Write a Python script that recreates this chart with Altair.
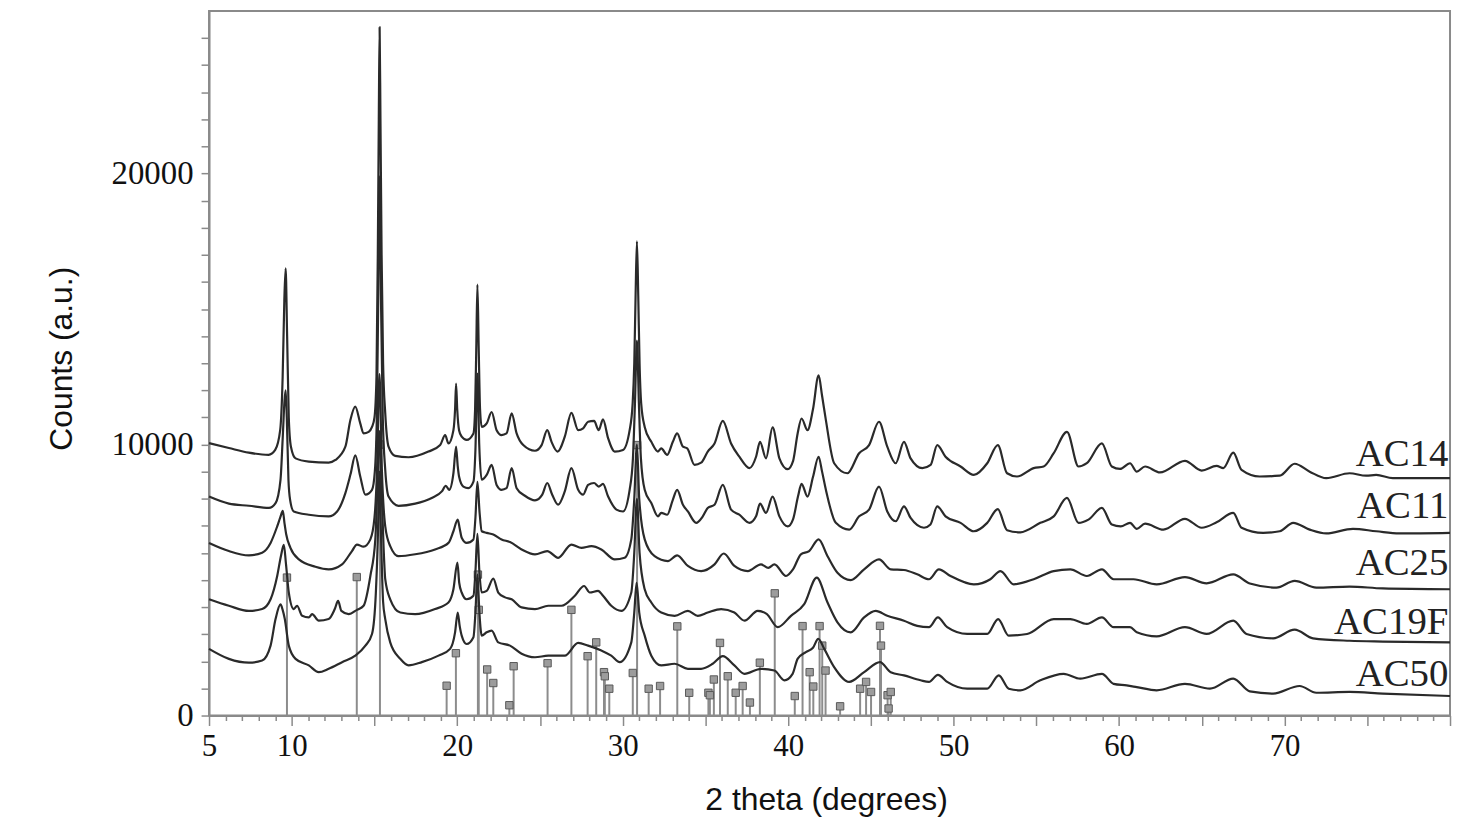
import altair as alt
import pandas as pd

# ---------------- XRD patterns (2theta in degrees, counts) ----------------
ac14_x = [5.0, 6.2, 7.4, 8.6, 9.0, 9.3, 9.45, 9.55, 9.63, 9.72, 9.82, 9.95, 10.23, 11.03, 12.23, 12.64,
          13.24, 13.54, 13.84, 14.14, 14.34, 14.65, 14.85, 15.0, 15.12, 15.2, 15.26, 15.31, 15.36, 15.43,
          15.52, 15.65, 15.85, 16.25, 17.06, 18.26, 18.97, 19.27, 19.47, 19.77, 19.87, 19.93, 20.0, 20.11,
          20.27, 20.57, 20.98, 21.08, 21.15, 21.22, 21.3, 21.38, 21.48, 21.78, 22.08, 22.38, 22.68, 22.98,
          23.29, 23.59, 23.99, 24.7, 25.1, 25.44, 25.7, 26.06, 26.5, 26.9, 27.31, 27.61, 27.91, 28.27,
          28.55, 28.81, 29.12, 29.52, 30.02, 30.42, 30.6, 30.7, 30.78, 30.86, 30.94, 31.02, 31.12, 31.33,
          31.73, 32.13, 32.33, 32.69, 33.03, 33.29, 33.64, 33.9, 34.34, 34.74, 35.14, 35.55, 36.05, 36.55,
          37.05, 37.66, 38.06, 38.3, 38.66, 39.06, 39.47, 39.97, 40.3, 40.57, 40.81, 41.17, 41.5, 41.84,
          42.05, 42.28, 42.78, 43.58, 44.29, 44.89, 45.49, 45.99, 46.5, 47.0, 47.4, 48.11, 48.61, 49.01,
          49.51, 50.42, 51.22, 52.03, 52.67, 53.23, 53.83, 54.84, 55.44, 56.05, 56.85, 57.55, 58.05, 58.96,
          59.56, 60.06, 60.66, 61.07, 61.57, 62.47, 63.98, 64.99, 65.89, 66.3, 66.9, 67.4, 68.5, 69.71,
          70.61, 71.52, 72.52, 73.93, 74.93, 75.54, 76.54, 80.0]
ac14_y = [10050, 9870, 9700, 9620, 9800, 10530, 12500, 15300, 16500, 14000, 11000, 9920, 9490, 9370, 9330, 9430,
          9920, 10900, 11400, 10780, 10410, 10470, 10650, 11000, 12500, 17000, 22000, 25400, 22000, 17000,
          13000, 11150, 9920, 9580, 9530, 9740, 9980, 10350, 10040, 10530, 11300, 12250, 11300, 10530,
          10290, 10170, 10410, 11300, 13500, 15900, 13500, 11300, 10650, 10780, 11200, 10530, 10350, 10410,
          11150, 10410, 9980, 9770, 9980, 10530, 10100, 9740, 10290, 11170, 10530, 10600, 10840, 10870,
          10530, 10930, 10230, 9740, 9800, 10530, 11500, 13000, 15500, 17500, 15500, 13000, 11500, 10650,
          10100, 9740, 9860, 9620, 10100, 10410, 9920, 9860, 9250, 9330, 9740, 10040, 10870, 10040,
          9550, 9130, 9550, 10100, 9490, 10630, 9490, 9090, 9400, 10400, 10960, 10530, 11300, 12550,
          11800, 10900, 9310, 8940, 9680, 9980, 10840, 9920, 9310, 10100, 9490, 9130, 9250, 9980,
          9550, 9190, 8880, 9310, 9980, 8940, 8820, 9130, 9190, 9680, 10470, 9190, 9310, 10040,
          9190, 9100, 9310, 9000, 9190, 8970, 9400, 9040, 9210, 9130, 9700, 9065, 8820, 8850,
          9290, 9000, 8760, 8940, 8850, 8880, 8760, 8760]

ac11_x = [5.0, 6.2, 7.41, 8.62, 9.02, 9.32, 9.45, 9.56, 9.63, 9.7, 9.8, 9.9, 10.12, 11.03, 12.23, 12.74,
          13.24, 13.55, 13.84, 14.14, 14.45, 14.85, 15.02, 15.14, 15.22, 15.31, 15.4, 15.5, 15.65, 15.85,
          16.45, 17.46, 18.46, 19.07, 19.31, 19.51, 19.77, 19.93, 20.03, 20.11, 20.37, 20.67, 20.98, 21.1,
          21.22, 21.33, 21.48, 21.78, 22.08, 22.38, 22.68, 22.98, 23.29, 23.59, 24.09, 24.7, 25.14, 25.44,
          25.74, 26.1, 26.5, 26.9, 27.31, 27.61, 27.91, 28.27, 28.55, 28.81, 29.12, 29.62, 30.02, 30.42,
          30.62, 30.74, 30.86, 30.98, 31.1, 31.33, 31.73, 32.13, 32.33, 32.69, 33.03, 33.29, 33.64, 33.94,
          34.44, 34.84, 35.14, 35.55, 36.05, 36.55, 37.05, 37.66, 38.06, 38.3, 38.66, 39.06, 39.47, 39.97,
          40.3, 40.6, 40.81, 41.17, 41.5, 41.84, 42.05, 42.28, 42.88, 43.69, 44.29, 44.89, 45.49, 45.99,
          46.5, 47.0, 47.4, 48.21, 48.6, 49.01, 49.51, 50.42, 51.22, 52.03, 52.67, 53.23, 54.03, 55.24,
          56.05, 56.85, 57.55, 58.15, 58.96, 59.56, 60.1, 60.66, 61.07, 61.57, 62.68, 63.98, 64.99, 65.89,
          66.9, 67.4, 68.71, 69.71, 70.52, 71.52, 72.52, 74.13, 75.54, 76.94, 80.0]
ac11_y = [8080, 7820, 7740, 7660, 7840, 8700, 10200, 11600, 12000, 11000, 8700, 7960, 7530, 7410, 7350, 7530,
          8210, 8900, 9600, 8820, 8150, 8330, 9000, 11000, 15000, 19900, 15000, 11000, 9065, 8080,
          7740, 7820, 8030, 8270, 8480, 8330, 8940, 9920, 9200, 8820, 8450, 8390, 8630, 9800,
          12620, 10000, 8700, 8880, 9250, 8510, 8330, 8390, 9130, 8390, 8110, 7940, 8150, 8580,
          8150, 7780, 8270, 9130, 8330, 8150, 8510, 8580, 8450, 8550, 8080, 7600, 7530, 8330,
          9500, 11500, 13840, 11500, 9500, 8330, 7840, 7350, 7480, 7410, 7960, 8330, 7780, 7530,
          7110, 7350, 7660, 7780, 8510, 7600, 7410, 7110, 7350, 7820, 7480, 8080, 7350, 6980,
          7250, 8100, 8550, 8080, 8800, 9550, 9000, 8330, 7110, 6860, 7350, 7600, 8450, 7530,
          7170, 7720, 7290, 6930, 7050, 7720, 7350, 7110, 6800, 7110, 7620, 6840, 6760, 7110,
          7350, 8030, 7110, 7230, 7660, 7050, 6980, 7110, 6890, 7080, 6860, 7260, 6930, 7130,
          7480, 6930, 6740, 6800, 7110, 6860, 6720, 6890, 6800, 6720, 6740]

ac25_x = [5.0, 6.2, 7.41, 8.21, 8.72, 9.12, 9.3, 9.46, 9.56, 9.66, 9.92, 10.43, 11.43, 12.23, 13.04, 13.64,
          13.94, 14.34, 14.75, 15.0, 15.15, 15.3, 15.45, 15.65, 15.95, 16.45, 17.46, 18.66, 19.47, 19.77,
          20.03, 20.15, 20.27, 20.57, 20.98, 21.1, 21.22, 21.35, 21.48, 21.78, 22.18, 22.68, 23.19, 23.89,
          24.7, 25.44, 26.1, 26.9, 27.51, 28.11, 28.71, 29.52, 30.12, 30.52, 30.7, 30.86, 31.0, 31.33,
          31.93, 32.73, 33.29, 33.94, 34.74, 35.55, 36.11, 36.75, 37.56, 38.36, 38.8, 39.17, 39.87, 40.3,
          40.77, 41.27, 41.84, 42.38, 42.98, 43.78, 44.59, 45.49, 46.2, 47.0, 47.8, 48.51, 49.11, 49.81,
          51.22, 52.22, 52.83, 53.63, 54.84, 56.05, 57.05, 58.05, 58.96, 59.67, 60.87, 62.27, 63.98, 65.29,
          66.9, 67.9, 69.51, 70.61, 71.92, 73.93, 75.94, 80.0]
ac25_y = [6370, 6070, 5910, 6010, 6370, 6980, 7300, 7550, 7100, 6700, 6190, 5760, 5490, 5395, 5580, 6070,
          6310, 6230, 6500, 7300, 9000, 12600, 9000, 6980, 6250, 5880, 5950, 6130, 6370, 6800,
          7230, 6900, 6560, 6370, 6500, 7300, 8620, 7500, 6800, 6740, 6680, 6500, 6400, 6130,
          5950, 6070, 5820, 6310, 6190, 6250, 6130, 5760, 5820, 6500, 8000, 10000, 8000, 6500,
          5880, 5700, 5910, 5520, 5330, 5580, 5980, 5520, 5330, 5580, 5450, 5580, 5150, 5400,
          5950, 6070, 6500, 5880, 5270, 5000, 5395, 5760, 5395, 5370, 5210, 5030, 5395, 5150,
          4840, 5030, 5330, 4840, 5030, 5330, 5395, 5150, 5395, 5030, 5030, 4840, 5110, 4880,
          5210, 4870, 4720, 4970, 4720, 4760, 4690, 4660]

ac19f_x = [5.0, 6.2, 7.41, 8.21, 8.72, 9.12, 9.35, 9.52, 9.65, 9.82, 10.12, 10.32, 10.63, 11.03, 11.23, 11.63,
           12.23, 12.6, 12.8, 13.0, 13.44, 13.94, 14.34, 14.75, 15.05, 15.18, 15.3, 15.42, 15.55, 15.65,
           15.95, 16.56, 17.46, 18.66, 19.47, 19.77, 20.01, 20.12, 20.27, 20.57, 20.98, 21.1, 21.22, 21.34,
           21.48, 21.78, 22.18, 22.48, 22.89, 23.29, 23.89, 24.7, 25.5, 26.3, 27.11, 27.67, 28.01, 28.51,
           28.81, 29.31, 29.92, 30.52, 30.7, 30.86, 31.02, 31.33, 31.73, 32.33, 33.14, 33.94, 34.54, 35.14,
           35.95, 36.75, 37.36, 38.16, 38.7, 39.37, 40.17, 40.97, 41.73, 42.38, 42.98, 43.78, 44.59, 45.29,
           45.99, 47.0, 47.8, 48.51, 49.05, 49.61, 50.82, 52.03, 52.69, 53.33, 54.44, 56.05, 57.05, 58.05,
           58.96, 59.67, 60.66, 61.07, 62.27, 63.98, 65.29, 66.9, 67.7, 69.31, 70.61, 71.72, 73.93, 75.94,
           80.0]
ac19f_y = [4290, 4050, 3860, 3930, 4290, 5150, 5900, 6300, 5600, 4540, 3930, 4050, 3680, 3620, 3740, 3500,
           3560, 3930, 4230, 3860, 3740, 3900, 4050, 5150, 6500, 8500, 10500, 8500, 6200, 5030,
           4290, 3800, 3740, 3930, 4170, 4660, 5640, 4900, 4540, 4290, 4420, 5300, 6700, 5300,
           4540, 4600, 5050, 4540, 4360, 4290, 3990, 3930, 4050, 4050, 4420, 4780, 4540, 4600,
           4420, 4050, 3860, 4540, 6000, 8000, 6000, 4660, 4170, 3800, 3680, 3860, 3680, 3800,
           3930, 3800, 3500, 3860, 3750, 3260, 3680, 4110, 5090, 4170, 3440, 3070, 3620, 3860,
           3680, 3500, 3310, 3260, 3620, 3260, 3010, 3010, 3560, 2950, 3010, 3560, 3560, 3380,
           3620, 3260, 3260, 3070, 2920, 3260, 3010, 3500, 3010, 2850, 3170, 2850, 2760, 2730,
           2700]

ac50_x = [5.0, 6.2, 7.41, 8.21, 8.72, 9.02, 9.32, 9.45, 9.58, 9.82, 10.23, 11.03, 11.63, 12.23, 13.04, 13.84,
          14.45, 14.85, 15.08, 15.2, 15.3, 15.4, 15.52, 15.65, 15.95, 16.56, 17.06, 17.86, 18.87, 19.57,
          19.87, 20.03, 20.15, 20.27, 20.57, 20.98, 21.1, 21.22, 21.34, 21.48, 21.78, 22.08, 22.48, 23.19,
          23.89, 24.7, 25.5, 26.5, 27.31, 27.91, 28.71, 29.31, 29.82, 30.52, 30.7, 30.84, 31.0, 31.33,
          31.73, 32.33, 33.14, 33.94, 34.74, 35.44, 36.05, 36.75, 37.36, 38.36, 39.17, 39.77, 40.27, 40.57,
          41.07, 41.5, 41.82, 42.18, 42.78, 43.69, 44.59, 45.55, 46.2, 47.0, 48.0, 48.51, 49.05, 49.61,
          50.82, 52.03, 52.73, 53.33, 54.03, 55.24, 56.65, 57.65, 58.96, 59.67, 60.46, 61.07, 62.27, 63.98,
          65.49, 66.9, 67.9, 69.31, 70.91, 71.92, 73.93, 75.94, 80.0]
ac50_y = [2460, 2090, 1950, 2030, 2580, 3560, 4100, 3900, 3560, 2580, 2090, 1850, 1600, 1725, 1970, 2210,
          2580, 3010, 4500, 6500, 9000, 6500, 4200, 3560, 2700, 2090, 1850, 1970, 2210, 2460,
          3070, 3800, 3300, 2950, 2640, 2890, 3800, 5200, 3800, 2950, 3070, 3130, 2700, 2580,
          2280, 2150, 2210, 2210, 2680, 2580, 2400, 2210, 1970, 2700, 3800, 4900, 3800, 2950,
          2210, 1850, 1910, 1725, 1725, 1910, 2190, 1850, 1540, 1725, 1660, 1300, 1540, 2090,
          2340, 2500, 2830, 2460, 1790, 1240, 1600, 1970, 1600, 1480, 1300, 1240, 1500, 1240,
          990, 990, 1480, 990, 930, 1300, 1540, 1360, 1540, 1170, 1110, 1050, 930, 1170,
          990, 1360, 890, 810, 1090, 840, 870, 810, 720]

# ---------------- reference stick pattern ----------------
stick_x = [9.71, 13.93, 15.33, 19.36, 19.92, 21.25, 21.3, 21.81, 22.18, 23.15, 23.41, 25.46, 26.9, 27.88,
           28.4, 28.87, 28.92, 29.19, 30.61, 30.87, 31.57, 32.26, 33.3, 34.02, 35.18, 35.27, 35.51, 35.88,
           36.35, 36.83, 37.25, 37.69, 38.29, 39.19, 40.4, 40.87, 41.3, 41.52, 41.9, 42.06, 42.26, 43.14,
           44.35, 44.71, 45.01, 45.55, 45.61, 46.01, 46.07, 46.2]
stick_y = [5090, 5110, 10000, 1100, 2300, 5200, 3900, 1700, 1200, 380, 1820, 1930, 3900, 2190,
           2700, 1600, 1450, 990, 1570, 9980, 990, 1090, 3290, 840, 840, 750, 1330, 2680,
           1450, 840, 1090, 480, 1950, 4510, 720, 3300, 1600, 1070, 3300, 2580, 1660, 340,
           990, 1240, 870, 3310, 2580, 750, 260, 870]

# ---------------- series labels ----------------
label_names = ["AC14", "AC11", "AC25", "AC19F", "AC50"]
label_x = [79.9, 79.9, 79.9, 79.9, 79.9]
label_y = [9200, 7300, 5170, 3020, 1100]

series = [("AC14", ac14_x, ac14_y), ("AC11", ac11_x, ac11_y), ("AC25", ac25_x, ac25_y),
          ("AC19F", ac19f_x, ac19f_y), ("AC50", ac50_x, ac50_y)]
rows = []
for name, xs, ys in series:
    for i, (a, b) in enumerate(zip(xs, ys)):
        rows.append({"sample": name, "x": a, "y": b, "i": i})
traces = pd.DataFrame(rows)
sticks = pd.DataFrame({"x": stick_x, "y": stick_y, "base": [0] * len(stick_x)})
labels = pd.DataFrame({"name": label_names, "x": label_x, "y": label_y})

AXIS_GRAY = "#8a8a8a"
xscale = alt.Scale(domain=[5, 80], nice=False, zero=False)
yscale = alt.Scale(domain=[0, 26000], nice=False)

xaxis = alt.Axis(
    values=list(range(5, 81)),
    labelExpr="(datum.value == 5 || (datum.value % 10 == 0 && datum.value <= 70)) ? datum.value : ''",
    labelOverlap=False, labelFlush=False,
    tickSize={"condition": {"test": "datum.value % 5 == 0", "value": 10}, "value": 5},
    tickColor=AXIS_GRAY, tickWidth=1.5, domainColor=AXIS_GRAY, domainWidth=2,
    labelFont="Liberation Serif", labelFontSize=31, labelColor="#111", labelPadding=6,
    grid=False,
    title="2 theta (degrees)", titleFont="Liberation Sans", titleFontSize=32,
    titleFontWeight="normal", titleColor="#111",
    titleX=620, titleY=84, titleAlign="center", titleBaseline="middle",
)
yaxis = alt.Axis(
    values=list(range(0, 26000, 1000)),
    labelExpr="datum.value % 10000 == 0 ? datum.value : ''",
    labelOverlap=False, labelFlush=False,
    tickSize=8, tickColor=AXIS_GRAY, tickWidth=1.5, domainColor=AXIS_GRAY, domainWidth=2,
    labelFont="Liberation Serif", labelFontSize=33, labelColor="#111", labelPadding=8,
    grid=False,
    title="Counts (a.u.)", titleFont="Liberation Sans", titleFontSize=32,
    titleFontWeight="normal", titleColor="#111",
    titleX=-148, titleY=349, titleAngle=270, titleAlign="center", titleBaseline="middle",
)

X = alt.X("x:Q", scale=xscale, axis=xaxis)
Y = alt.Y("y:Q", scale=yscale, axis=yaxis)

stick_rules = alt.Chart(sticks).mark_rule(color="#8c8c8c", strokeWidth=2).encode(
    x=X, y=Y, y2="base:Q"
)
stick_marks = alt.Chart(sticks).mark_square(
    size=55, color="#9c9c9c", stroke="#5a5a5a", strokeWidth=1, opacity=1, filled=True
).encode(x=X, y=Y)

lines = alt.Chart(traces).mark_line(
    color="#2a2a2a", strokeWidth=2.2, strokeJoin="round", interpolate="monotone"
).encode(x=X, y=Y, detail="sample:N", order="i:Q")

text = alt.Chart(labels).mark_text(
    align="right", baseline="alphabetic", font="Liberation Serif", fontSize=39, color="#222"
).encode(x=X, y=Y, text="name:N")

chart = (
    alt.layer(stick_rules, stick_marks, lines, text)
    .properties(
        width=1247, height=708,
        autosize=alt.AutoSizeParams(type="none"),
        padding={"left": 202, "top": 1, "right": 4, "bottom": 100},
    )
    .configure_view(stroke=AXIS_GRAY, strokeWidth=2)
)

chart.save("out.html", embed_options={"renderer": "svg", "actions": False})
